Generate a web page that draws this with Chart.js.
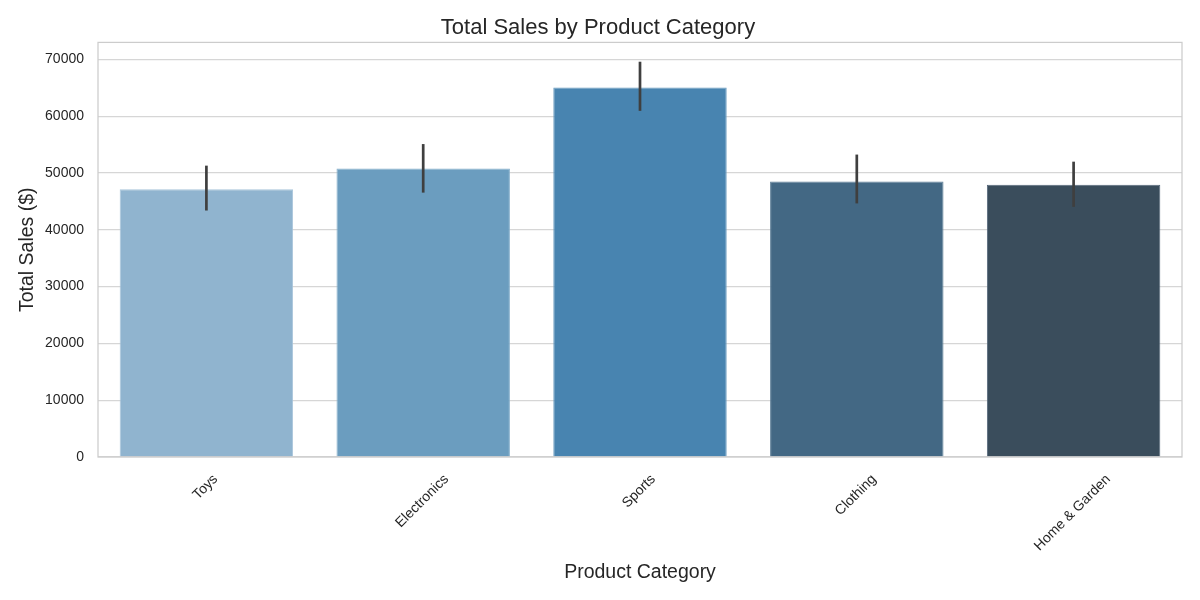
<!DOCTYPE html>
<html>
<head>
<meta charset="utf-8">
<script src="https://cdn.jsdelivr.net/npm/chart.js@4.4.0/dist/chart.umd.min.js"></script>
<style>
  body { margin: 0; background: #fff; }
  #wrap { width: 1200px; height: 600px; }
</style>
</head>
<body>
<div id="wrap"><canvas id="salesChart" width="1200" height="600"></canvas></div>
<script>
const categories = ["Toys", "Electronics", "Sports", "Clothing", "Home & Garden"];
const totalSales = [47150, 50800, 65050, 48500, 47950];
const errLow = [43400, 46550, 60950, 44650, 44050];
const errHigh = [51300, 55100, 69600, 53250, 52000];
const barColors = ["#90b4cf", "#6b9dbf", "#4884b0", "#436884", "#3a4d5c"];
const edgeColors = ["#a8c5da", "#86b0cc", "#6a9cc0", "#5f7f98", "#56687a"];
const yTicks = [0, 10000, 20000, 30000, 40000, 50000, 60000, 70000];

const FONT = "'Liberation Sans', Arial, sans-serif";
const TICK_SIZE = 14;

// error bars, frame round the plot, and centred rotated category labels
const extras = {
  id: "extras",
  afterDatasetsDraw(chart) {
    const ctx = chart.ctx;
    const x = chart.scales.x;
    const y = chart.scales.y;
    ctx.save();
    ctx.strokeStyle = "#3f3f3f";
    ctx.lineWidth = 2.7;
    categories.forEach((c, i) => {
      const px = x.getPixelForValue(i);
      ctx.beginPath();
      ctx.moveTo(px, y.getPixelForValue(errLow[i]));
      ctx.lineTo(px, y.getPixelForValue(errHigh[i]));
      ctx.stroke();
    });
    const a = chart.chartArea;
    ctx.strokeStyle = "#cccccc";
    ctx.lineWidth = 1.25;
    ctx.strokeRect(a.left, a.top, a.right - a.left, a.bottom - a.top);

    // matplotlib style: rotated 45deg, bbox centred on tick, top aligned
    ctx.font = TICK_SIZE + "px " + FONT;
    ctx.fillStyle = "#262626";
    ctx.textAlign = "center";
    ctx.textBaseline = "middle";
    const top = a.bottom + 15;
    categories.forEach((c, i) => {
      const w = ctx.measureText(c).width;
      const side = (w + TICK_SIZE) / Math.SQRT2;
      ctx.save();
      ctx.translate(x.getPixelForValue(i) - 1, top + side / 2);
      ctx.rotate(-Math.PI / 4);
      ctx.fillText(c, 0, 0);
      ctx.restore();
    });
    ctx.restore();
  }
};

new Chart(document.getElementById("salesChart").getContext("2d"), {
  type: "bar",
  data: {
    labels: categories,
    datasets: [
      {
        label: "Total Sales",
        data: totalSales,
        backgroundColor: barColors,
        borderColor: edgeColors,
        borderWidth: 1,
        barPercentage: 0.8,
        categoryPercentage: 1.0,
      },
    ],
  },
  options: {
    responsive: false,
    animation: false,
    layout: { padding: { top: 11, right: 18, bottom: 16, left: 14 } },
    plugins: {
      legend: { display: false },
      tooltip: { enabled: false },
      title: {
        display: true,
        text: "Total Sales by Product Category",
        color: "#262626",
        font: { family: FONT, size: 22, weight: "normal" },
        padding: { top: 4, bottom: 1 },
      },
    },
    scales: {
      x: {
        grid: { display: false, drawTicks: false },
        border: { display: false },
        ticks: { display: false },
        title: {
          display: true,
          text: "Product Category",
          color: "#262626",
          font: { family: FONT, size: 19.5 },
          padding: { top: 4, bottom: 0 },
        },
        afterFit: (s) => { s.height = 600 - 457 - 16; },
      },
      y: {
        min: 0,
        max: 73000,
        afterBuildTicks: (s) => { s.ticks = yTicks.map((v) => ({ value: v })); },
        grid: { color: "#d6d6d6", lineWidth: 1.25, drawTicks: false },
        border: { display: false },
        ticks: {
          color: "#262626",
          font: { family: FONT, size: TICK_SIZE },
          padding: 14,
          callback: (v) => String(v),
        },
        title: {
          display: true,
          text: "Total Sales ($)",
          color: "#262626",
          font: { family: FONT, size: 19.5 },
          padding: { top: 2, bottom: 6 },
        },
        afterFit: (s) => { s.width = 98 - 14; },
      },
    },
  },
  plugins: [extras],
});
</script>
</body>
</html>
